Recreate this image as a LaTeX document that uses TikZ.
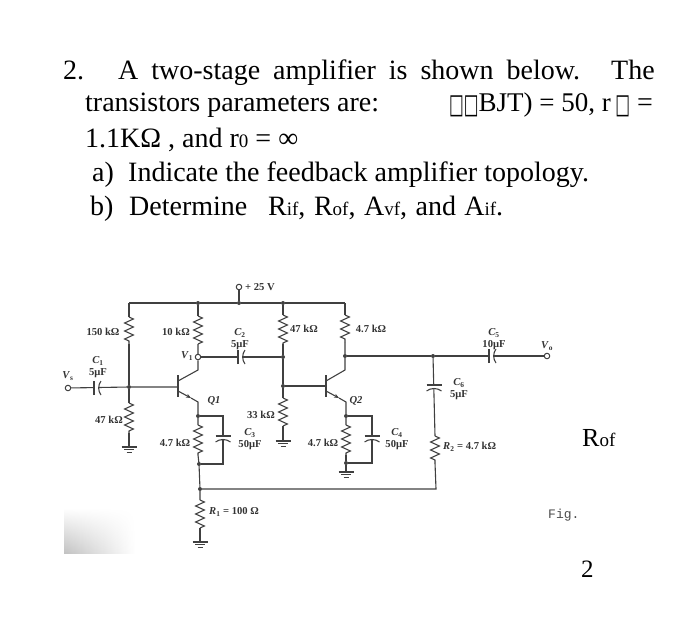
\documentclass[tikz,border=0pt]{standalone}
\usepackage{fontspec}
\setmainfont{Liberation Serif}
\newfontfamily\boxfont{DejaVu Sans}
\newfontfamily\figfont{Liberation Mono}
\usetikzlibrary{decorations.pathmorphing,arrows.meta,fadings}
\tikzset{
  wire/.style={black!75, line width=1.1pt},
  res/.style={black!75, line width=1.1pt, decorate, decoration={zigzag, segment length=8pt, amplitude=4.4pt}},
  dot/.style={circle, fill=black!75, inner sep=0pt, minimum size=4pt},
  port/.style={circle, draw=black!75, fill=white, line width=1pt, inner sep=0pt, minimum size=5.5pt},
  lab/.style={black!80, font=\fontsize{10.6}{10.6}\selectfont\bfseries, inner sep=0pt, align=center},
  big/.style={anchor=base west, inner sep=0pt, font=\fontsize{28}{28}\selectfont},
}
\newcommand{\sm}[1]{{\fontsize{19}{19}\selectfont #1}}
\newcommand{\tofu}{\raisebox{-2pt}{\scalebox{0.82}[1.45]{\boxfont\fontsize{19}{19}\selectfont □}}}
% ground symbol below a named point
\newcommand{\gnd}[1]{
  \draw [wire] ([xshift=-7.5pt]#1) -- ([xshift=7.5pt]#1);
  \draw [wire] ([xshift=-5pt,yshift=-2.6pt]#1) -- ([xshift=5pt,yshift=-2.6pt]#1);
  \draw [wire] ([xshift=-2.5pt,yshift=-5.2pt]#1) -- ([xshift=2.5pt,yshift=-5.2pt]#1);
}
% capacitor in a horizontal wire
\newcommand{\caph}[1]{
  \fill [white] ([xshift=-2pt,yshift=-5pt]#1) rectangle ([xshift=3pt,yshift=5pt]#1);
  \draw [wire] ([xshift=-2pt,yshift=-7pt]#1) -- ([xshift=-2pt,yshift=7pt]#1);
  \draw [wire] ([xshift=5pt,yshift=-7pt]#1) to [bend left=35] ([xshift=5pt,yshift=7pt]#1);
}
% capacitor in a vertical wire
\newcommand{\capv}[1]{
  \fill [white] ([xshift=-5pt,yshift=-2pt]#1) rectangle ([xshift=5pt,yshift=2pt]#1);
  \draw [wire] ([xshift=-7.5pt,yshift=2pt]#1) -- ([xshift=7.5pt,yshift=2pt]#1);
  \draw [wire] ([xshift=-7.5pt,yshift=-4pt]#1) to [bend left=35] ([xshift=7.5pt,yshift=-4pt]#1);
}
\begin{document}
\begin{tikzpicture}[x=1pt, y=-1pt]
\useasboundingbox (0,0) rectangle (700,628);
\shade [left color=black!24, right color=white, path fading=north] (64,508) rectangle (135,553);
%
\node [big] (no) at (63,80) {2.};
\node [big] (l1) at (118,80) {\makebox[462pt][s]{A two-stage amplifier is shown below.}};
\node [big] (the) at (611,80) {The};
\node [big] (l2) at (85,112) {transistors parameters are:};
\node [big, font=\fontsize{27}{27}\selectfont] (l2b) at (449,112) {\tofu\tofu BJT) = 50, r\,\tofu};
\node [big] (l2c) at (637,112) {=};
\node [big] (l3) at (85,148) {1.1KΩ , and r\sm{0} = ∞};
\node [big] (l4a) at (92,182) {a)};
\node [big] (l4) at (128,182) {Indicate the feedback amplifier topology.};
\node [big] (l5a) at (90,215) {b)};
\node [big] (l5) at (129,215) {Determine};
\node [big] (l5b) at (268,215) {\makebox[235pt][s]{R\sm{if}, R\sm{of}, A\sm{vf}, and A\sm{if}.}};
%
\coordinate (rail1) at (129,303);
\node [dot] (rail2) at (198,303) {};
\node [dot] (rail3) at (239,303) {};
\node [dot] (rail4) at (283,303) {};
\coordinate (rail5) at (345,303);
\node [port] (vcc) at (239,287) {};
\node [lab, anchor=west] (vcclab) at (245,287) {+ 25 V};
\draw [wire] (rail1) -- (rail2) -- (rail3) -- (rail4) -- (rail5);
\draw [wire] (vcc) -- (rail3);
%
\coordinate (r1a) at (129,317);
\coordinate (r1b) at (129,344);
\node [dot] (b1) at (129,387) {};
\coordinate (r2a) at (129,403);
\coordinate (r2b) at (129,433);
\coordinate (g1) at (129,447);
\node [port] (vs) at (68,388) {};
\coordinate (c1) at (96,388);
\coordinate (base1) at (178,387);
\draw [wire] (rail1) -- (r1a);
\draw [res] (r1a) -- (r1b);
\draw [wire] (r1b) -- (b1) -- (r2a);
\draw [res] (r2a) -- (r2b);
\draw [wire] (r2b) -- (g1);
\gnd{g1}
\draw [wire] (vs) -- (b1) -- (base1);
\caph{c1}
%
\coordinate (r3a) at (198,316);
\coordinate (r3b) at (198,344);
\node [port] (v1) at (198,357) {};
\coordinate (q1c) at (198,370);
\coordinate (q1e) at (198,402);
\coordinate (q1top) at (178,375);
\coordinate (q1bot) at (178,397);
\coordinate (q1cb) at (178,381);
\coordinate (q1eb) at (178,391);
\coordinate (q1arr) at (191,398);
\node [dot] (e1) at (198,416) {};
\coordinate (r4a) at (198,425);
\coordinate (r4b) at (198,455);
\node [dot] (e1b) at (199,464) {};
\node [dot] (fb) at (200,489) {};
\coordinate (r5a) at (200,500);
\coordinate (r5b) at (200,528);
\coordinate (g2) at (200,542);
\coordinate (l3a) at (223,416);
\coordinate (l3b) at (223,464);
\coordinate (c3) at (223,438);
\draw [wire] (rail2) -- (r3a);
\draw [res] (r3a) -- (r3b);
\draw [wire] (r3b) -- (v1) -- (q1c) -- (q1cb);
\draw [wire, line width=1.3pt] (q1top) -- (q1bot);
\draw [wire, -{Stealth[length=5pt,width=4pt]}] (q1eb) -- (q1arr);
\draw [wire] (q1arr) -- (q1e) -- (e1) -- (r4a);
\draw [res] (r4a) -- (r4b);
\draw [wire] (r4b) -- (e1b) -- (fb) -- (r5a);
\draw [res] (r5a) -- (r5b);
\draw [wire] (r5b) -- (g2);
\gnd{g2}
\draw [wire] (e1) -- (l3a) -- (l3b) -- (e1b);
\capv{c3}
%
\coordinate (c2) at (240,357);
\node [dot] (j1) at (283,357) {};
\coordinate (r6a) at (283,315);
\coordinate (r6b) at (283,344);
\node [dot] (b2) at (283,386) {};
\coordinate (r7a) at (283,398);
\coordinate (r7b) at (283,426);
\coordinate (g3) at (283,441);
\coordinate (base2) at (326,386);
\draw [wire] (v1) -- (j1);
\caph{c2}
\draw [wire] (rail4) -- (r6a);
\draw [res] (r6a) -- (r6b);
\draw [wire] (r6b) -- (j1) -- (b2) -- (r7a);
\draw [res] (r7a) -- (r7b);
\draw [wire] (r7b) -- (g3);
\gnd{g3}
\draw [wire] (b2) -- (base2);
%
\coordinate (r8a) at (345,315);
\coordinate (r8b) at (345,342);
\node [dot] (c2j) at (345,356) {};
\coordinate (q2c) at (345,370);
\coordinate (q2e) at (346,402);
\coordinate (q2top) at (326,375);
\coordinate (q2bot) at (326,397);
\coordinate (q2cb) at (326,381);
\coordinate (q2eb) at (326,391);
\coordinate (q2arr) at (339,398);
\node [dot] (e2) at (346,416) {};
\coordinate (r9a) at (346,425);
\coordinate (r9b) at (346,455);
\node [dot] (e2b) at (346,463) {};
\coordinate (g4) at (346,472);
\coordinate (l4a) at (372,416);
\coordinate (l4b) at (372,463);
\coordinate (c4) at (372,438);
\draw [wire] (rail5) -- (r8a);
\draw [res] (r8a) -- (r8b);
\draw [wire] (r8b) -- (c2j) -- (q2c) -- (q2cb);
\draw [wire, line width=1.3pt] (q2top) -- (q2bot);
\draw [wire, -{Stealth[length=5pt,width=4pt]}] (q2eb) -- (q2arr);
\draw [wire] (q2arr) -- (q2e) -- (e2) -- (r9a);
\draw [res] (r9a) -- (r9b);
\draw [wire] (r9b) -- (e2b) -- (g4);
\gnd{g4}
\draw [wire] (e2) -- (l4a) -- (l4b) -- (e2b);
\capv{c4}
%
\node [dot] (out) at (433,356) {};
\node [port] (vo) at (547,356) {};
\coordinate (c5) at (491,356);
\coordinate (c6) at (434,387);
\coordinate (r10a) at (435,436);
\coordinate (r10b) at (435,463);
\coordinate (fbr) at (436,489);
\draw [wire] (c2j) -- (out) -- (vo);
\caph{c5}
\draw [wire] (out) -- (r10a);
\capv{c6}
\draw [res] (r10a) -- (r10b);
\draw [wire] (r10b) -- (fbr) -- (fb);
%
\node [lab] (lr1) at (103,332) {150 kΩ};
\node [lab] (lr2) at (109,420) {47 kΩ};
\node [lab] (lvs) at (68,376) {\textit{V}\textsubscript{s}};
\node [lab] (lc1) at (98,367) {\textit{C}\textsubscript{1}\\[1pt]5μF};
\node [lab] (lr3) at (176,332) {10 kΩ};
\node [lab] (lv1) at (187,356) {\textit{V}\textsubscript{1}};
\node [lab] (lc2) at (240,339) {\textit{C}\textsubscript{2}\\[1pt]5μF};
\node [lab] (lr6) at (304,329) {47 kΩ};
\node [lab] (lr7) at (261,415) {33 kΩ};
\node [lab] (lq1) at (214,401) {\textit{Q1}};
\node [lab] (lq2) at (356,401) {\textit{Q2}};
\node [lab] (lr4) at (175,443) {4.7 kΩ};
\node [lab] (lc3) at (250,439) {\textit{C}\textsubscript{3}\\[1pt]50μF};
\node [lab] (lr9) at (323,443) {4.7 kΩ};
\node [lab] (lc4) at (397,439) {\textit{C}\textsubscript{4}\\[1pt]50μF};
\node [lab] (lr8) at (371,329) {4.7 kΩ};
\node [lab] (lc5) at (494,339) {\textit{C}\textsubscript{5}\\[1pt]10μF};
\node [lab] (lvo) at (547,346) {\textit{V}\textsubscript{o}};
\node [lab] (lc6) at (459,389) {\textit{C}\textsubscript{6}\\[1pt]5μF};
\node [lab, anchor=west] (lr10) at (443,447) {\textit{R}\textsubscript{2} = 4.7 kΩ};
\node [lab, anchor=west] (lr5) at (209,512) {\textit{R}\textsubscript{1} = 100 Ω};
%
\node [big, font=\fontsize{26}{26}\selectfont] (rof) at (582,446) {R\sm{of}};
\node [anchor=base west, inner sep=0pt, black!70, font=\figfont\fontsize{13}{13}\selectfont] (fig) at (548,518) {Fig.};
\node [big, font=\fontsize{25}{25}\selectfont] (two) at (581,577) {2};
\end{tikzpicture}
\end{document}
